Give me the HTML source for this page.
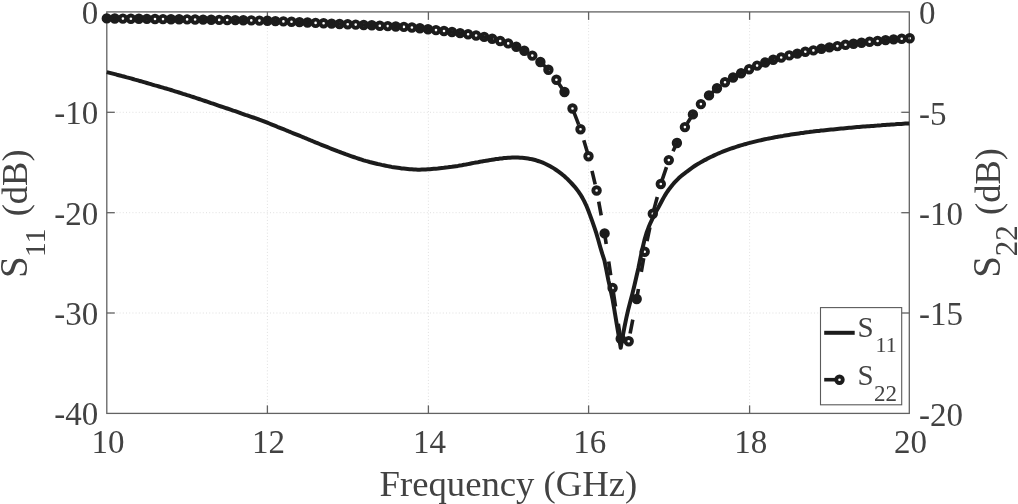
<!DOCTYPE html>
<html><head><meta charset="utf-8"><title>S-parameters</title>
<style>
html,body{margin:0;padding:0;background:#fff;}
body{width:1018px;height:504px;overflow:hidden;}
svg{display:block;}
text{font-family:"Liberation Serif",serif;fill:#424242;}
.tk text{font-size:33px;}
.ax{font-size:36.5px;}
.sub{font-size:30px;}
.axs{font-size:39px;}
.lg{font-size:29px;}
.lgs{font-size:22px;}
</style></head><body>
<svg width="1018" height="504" viewBox="0 0 1018 504">
<rect width="1018" height="504" fill="#fff"/>
<g stroke="#dcdcdc" stroke-width="0.9" stroke-dasharray="1 2.2" fill="none"><line x1="267.4" y1="11.9" x2="267.4" y2="413.4"/><line x1="428.4" y1="11.9" x2="428.4" y2="413.4"/><line x1="588.6" y1="11.9" x2="588.6" y2="413.4"/><line x1="749.6" y1="11.9" x2="749.6" y2="413.4"/><line x1="106.8" y1="112.3" x2="909.3" y2="112.3"/><line x1="106.8" y1="212.7" x2="909.3" y2="212.7"/><line x1="106.8" y1="313.0" x2="909.3" y2="313.0"/></g>
<g stroke="#626262" stroke-width="1.3" fill="none">
<rect x="106.8" y="11.9" width="802.5" height="401.5"/>
<line x1="267.4" y1="413.4" x2="267.4" y2="405.4"/><line x1="267.4" y1="11.9" x2="267.4" y2="19.9"/><line x1="428.4" y1="413.4" x2="428.4" y2="405.4"/><line x1="428.4" y1="11.9" x2="428.4" y2="19.9"/><line x1="588.6" y1="413.4" x2="588.6" y2="405.4"/><line x1="588.6" y1="11.9" x2="588.6" y2="19.9"/><line x1="749.6" y1="413.4" x2="749.6" y2="405.4"/><line x1="749.6" y1="11.9" x2="749.6" y2="19.9"/><line x1="106.8" y1="112.3" x2="114.8" y2="112.3"/><line x1="106.8" y1="212.7" x2="114.8" y2="212.7"/><line x1="106.8" y1="313.0" x2="114.8" y2="313.0"/><line x1="909.3" y1="112.3" x2="901.3" y2="112.3"/><line x1="909.3" y1="212.7" x2="901.3" y2="212.7"/><line x1="909.3" y1="313.0" x2="901.3" y2="313.0"/>
</g>
<path d="M106.8,72.1 L108.8,72.6 L110.8,73.1 L112.8,73.6 L114.8,74.1 L116.8,74.7 L118.8,75.2 L120.8,75.7 L122.8,76.3 L124.9,76.8 L126.9,77.4 L128.9,77.9 L130.9,78.4 L132.9,79.0 L134.9,79.6 L136.9,80.1 L138.9,80.7 L140.9,81.2 L142.9,81.8 L144.9,82.4 L146.9,83.0 L148.9,83.6 L150.9,84.2 L152.9,84.8 L154.9,85.4 L157.0,85.9 L159.0,86.5 L161.0,87.1 L163.0,87.7 L165.0,88.3 L167.0,88.8 L169.0,89.4 L171.0,90.0 L173.0,90.7 L175.0,91.3 L177.0,91.9 L179.0,92.5 L181.0,93.1 L183.0,93.8 L185.0,94.4 L187.1,95.1 L189.1,95.7 L191.1,96.4 L193.1,97.0 L195.1,97.7 L197.1,98.3 L199.1,99.0 L201.1,99.7 L203.1,100.3 L205.1,101.0 L207.1,101.7 L209.1,102.4 L211.1,103.1 L213.1,103.7 L215.1,104.4 L217.1,105.1 L219.1,105.8 L221.2,106.5 L223.2,107.1 L225.2,107.8 L227.2,108.5 L229.2,109.2 L231.2,109.9 L233.2,110.6 L235.2,111.2 L237.2,111.9 L239.2,112.6 L241.2,113.4 L243.2,114.1 L245.2,114.8 L247.2,115.4 L249.2,116.1 L251.2,116.8 L253.3,117.5 L255.3,118.2 L257.3,118.9 L259.3,119.7 L261.3,120.4 L263.3,121.1 L265.3,121.9 L267.3,122.7 L269.3,123.5 L271.3,124.3 L273.3,125.1 L275.3,125.9 L277.3,126.8 L279.3,127.6 L281.3,128.4 L283.4,129.2 L285.4,130.0 L287.4,130.8 L289.4,131.7 L291.4,132.5 L293.4,133.3 L295.4,134.1 L297.4,134.9 L299.4,135.7 L301.4,136.5 L303.4,137.3 L305.4,138.2 L307.4,139.0 L309.4,139.8 L311.4,140.7 L313.4,141.5 L315.4,142.4 L317.5,143.2 L319.5,144.0 L321.5,144.8 L323.5,145.6 L325.5,146.4 L327.5,147.2 L329.5,148.0 L331.5,148.8 L333.5,149.6 L335.5,150.4 L337.5,151.2 L339.5,151.9 L341.5,152.7 L343.5,153.4 L345.5,154.2 L347.6,154.9 L349.6,155.6 L351.6,156.3 L353.6,157.0 L355.6,157.7 L357.6,158.3 L359.6,159.0 L361.6,159.6 L363.6,160.3 L365.6,160.9 L367.6,161.4 L369.6,162.0 L371.6,162.5 L373.6,163.0 L375.6,163.5 L377.6,164.0 L379.7,164.4 L381.7,164.9 L383.7,165.3 L385.7,165.7 L387.7,166.1 L389.7,166.5 L391.7,166.9 L393.7,167.2 L395.7,167.5 L397.7,167.8 L399.7,168.1 L401.7,168.4 L403.7,168.6 L405.7,168.8 L407.7,169.0 L409.7,169.2 L411.8,169.3 L413.8,169.5 L415.8,169.6 L417.8,169.7 L419.8,169.7 L421.8,169.6 L423.8,169.5 L425.8,169.4 L427.8,169.3 L429.8,169.2 L431.8,169.0 L433.8,168.8 L435.8,168.7 L437.8,168.5 L439.8,168.2 L441.8,168.0 L443.9,167.8 L445.9,167.5 L447.9,167.3 L449.9,167.0 L451.9,166.8 L453.9,166.5 L455.9,166.2 L457.9,165.9 L459.9,165.5 L461.9,165.2 L463.9,164.8 L465.9,164.5 L467.9,164.1 L469.9,163.7 L471.9,163.3 L473.9,162.9 L475.9,162.5 L478.0,162.2 L480.0,161.8 L482.0,161.4 L484.0,161.1 L486.0,160.7 L488.0,160.4 L490.0,160.1 L492.0,159.7 L494.0,159.4 L496.0,159.1 L498.0,158.9 L500.0,158.6 L502.0,158.4 L504.0,158.1 L506.0,158.0 L508.1,157.8 L510.1,157.7 L512.1,157.6 L514.1,157.6 L516.1,157.6 L518.1,157.6 L520.1,157.7 L522.1,157.8 L524.1,158.0 L526.1,158.3 L528.1,158.6 L530.1,158.9 L532.1,159.3 L534.1,159.8 L536.1,160.3 L538.1,161.0 L540.1,161.7 L542.2,162.4 L544.2,163.3 L546.2,164.2 L548.2,165.2 L550.2,166.3 L552.2,167.4 L554.2,168.6 L556.2,170.0 L558.2,171.4 L560.2,172.9 L562.2,174.4 L564.2,176.1 L566.2,177.9 L568.2,179.8 L570.2,181.9 L572.2,184.0 L574.3,186.3 L576.3,188.8 L578.3,191.4 L580.3,194.3 L582.3,197.6 L584.3,201.4 L586.3,205.6 L588.3,210.6 L590.3,215.9 L592.3,221.4 L594.3,227.1 L596.3,233.2 L598.3,240.0 L600.3,247.2 L602.3,253.9 L604.4,260.3 L606.4,270.0 L608.4,280.4 L610.4,289.0 L612.4,298.5 L614.4,310.0 L616.4,322.1 L618.4,334.0 L620.4,346.0 L620.7,347.8 L622.4,338.0 L624.4,327.4 L626.4,317.7 L628.4,308.9 L630.4,301.2 L632.4,293.7 L634.4,285.5 L636.4,276.8 L638.5,267.7 L640.5,257.7 L642.5,248.2 L644.5,239.9 L646.5,233.0 L648.5,227.6 L650.5,222.8 L652.5,218.6 L654.5,214.8 L656.5,210.9 L658.5,207.3 L660.5,203.5 L662.5,199.7 L664.5,196.1 L666.5,192.9 L668.5,190.0 L670.6,187.3 L672.6,184.7 L674.6,182.4 L676.6,180.3 L678.6,178.3 L680.6,176.5 L682.6,174.9 L684.6,173.4 L686.6,171.8 L688.6,170.3 L690.6,168.8 L692.6,167.4 L694.6,166.0 L696.6,164.7 L698.6,163.6 L700.6,162.4 L702.7,161.2 L704.7,160.1 L706.7,159.1 L708.7,158.0 L710.7,157.0 L712.7,156.1 L714.7,155.1 L716.7,154.2 L718.7,153.3 L720.7,152.5 L722.7,151.7 L724.7,150.9 L726.7,150.1 L728.7,149.4 L730.7,148.7 L732.8,148.0 L734.8,147.3 L736.8,146.7 L738.8,146.0 L740.8,145.4 L742.8,144.8 L744.8,144.2 L746.8,143.7 L748.8,143.1 L750.8,142.6 L752.8,142.1 L754.8,141.6 L756.8,141.1 L758.8,140.6 L760.8,140.2 L762.8,139.7 L764.8,139.3 L766.9,138.9 L768.9,138.5 L770.9,138.1 L772.9,137.7 L774.9,137.3 L776.9,136.9 L778.9,136.6 L780.9,136.2 L782.9,135.9 L784.9,135.5 L786.9,135.2 L788.9,134.9 L790.9,134.6 L792.9,134.3 L794.9,134.0 L796.9,133.7 L799.0,133.4 L801.0,133.1 L803.0,132.9 L805.0,132.6 L807.0,132.3 L809.0,132.1 L811.0,131.8 L813.0,131.6 L815.0,131.3 L817.0,131.1 L819.0,130.9 L821.0,130.6 L823.0,130.4 L825.0,130.2 L827.0,130.0 L829.0,129.8 L831.1,129.6 L833.1,129.4 L835.1,129.2 L837.1,129.0 L839.1,128.8 L841.1,128.6 L843.1,128.4 L845.1,128.2 L847.1,128.0 L849.1,127.8 L851.1,127.7 L853.1,127.5 L855.1,127.3 L857.1,127.1 L859.1,127.0 L861.1,126.8 L863.2,126.6 L865.2,126.5 L867.2,126.3 L869.2,126.2 L871.2,126.0 L873.2,125.9 L875.2,125.7 L877.2,125.6 L879.2,125.4 L881.2,125.3 L883.2,125.1 L885.2,125.0 L887.2,124.8 L889.2,124.7 L891.2,124.5 L893.2,124.4 L895.3,124.3 L897.3,124.1 L899.3,124.0 L901.3,123.9 L903.3,123.7 L905.3,123.6 L907.3,123.5 L909.3,123.4" fill="none" stroke="#1c1c1c" stroke-width="4" stroke-linejoin="round"/>
<path d="M103.8,18.4 L106.8,18.4 L114.8,18.5 L117.8,18.5 M135.9,18.7 L138.9,18.8 L146.9,18.9 L149.9,18.9 M168.0,19.1 L171.0,19.2 L179.1,19.3 L182.0,19.3 M200.1,19.6 L203.1,19.6 L211.2,19.7 L214.1,19.8 M232.2,20.1 L235.3,20.1 L243.3,20.3 L246.2,20.3 M264.3,20.7 L267.4,20.8 L275.4,21.1 L278.3,21.2 M296.4,22.0 L299.5,22.1 L307.5,22.5 L310.3,22.7 M328.4,23.5 L331.6,23.6 L339.6,24.0 L342.4,24.1 M360.5,24.8 L363.7,25.0 L371.8,25.3 L374.5,25.5 M388.7,26.1 L395.8,26.5 L402.6,26.9 M417.0,28.0 L419.9,28.3 L428.0,29.2 L430.9,29.5 M448.3,31.5 L452.0,32.0 L460.1,33.1 L462.2,33.4 M479.6,36.1 L484.2,36.9 L492.2,38.8 L493.2,39.1 M514.2,45.8 L516.3,46.7 L524.3,50.7 L526.7,52.1 M539.1,61.0 L540.4,62.0 L548.4,69.8 L549.1,70.7 M558.4,82.9 L564.5,92.0 L565.8,94.8 M573.7,111.6 L578.7,124.6 M583.8,140.3 L587.8,153.8 M592.0,170.8 L595.2,184.4 M598.7,201.6 L601.2,215.4 M604.0,230.2 L604.6,233.4 L606.2,244.0 M608.7,261.4 L610.7,275.2 M613.4,292.6 L615.5,306.4 M618.3,323.8 L620.5,337.6 M630.1,333.5 L632.8,319.7 M636.0,302.8 L636.7,299.0 L638.4,289.0 M641.3,271.9 L643.7,258.1 M647.0,241.1 L649.9,227.4 M653.6,210.6 L657.3,197.0 M662.0,180.4 L666.5,167.1 M673.0,151.2 L676.9,143.0 L679.1,138.5 M687.3,123.3 L692.9,114.4 L695.0,111.7 M707.9,96.6 L709.0,95.4 L717.0,88.3 L718.3,87.3 M731.2,78.6 L733.1,77.5 L741.1,73.2 L743.6,72.0 M761.5,63.9 L765.2,62.5 L773.2,59.7 L774.7,59.3 M790.5,55.1 L797.3,53.6 L804.1,52.1 M818.5,49.4 L821.4,48.8 L829.4,47.4 L832.3,46.9 M850.6,44.1 L853.5,43.7 L861.5,42.7 L864.5,42.4 M882.7,40.4 L885.6,40.1 L893.6,39.4 L896.6,39.1" fill="none" stroke="#1c1c1c" stroke-width="3.6" stroke-linejoin="round"/>
<g fill="none" stroke="#1c1c1c" stroke-width="3.9"><circle cx="106.8" cy="18.4" r="3.25"/><circle cx="114.8" cy="18.5" r="3.25"/><circle cx="122.9" cy="18.6" r="3.25"/><circle cx="130.9" cy="18.7" r="3.25"/><circle cx="138.9" cy="18.8" r="3.25"/><circle cx="146.9" cy="18.9" r="3.25"/><circle cx="155.0" cy="19.0" r="3.25"/><circle cx="163.0" cy="19.1" r="3.25"/><circle cx="171.0" cy="19.2" r="3.25"/><circle cx="179.1" cy="19.3" r="3.25"/><circle cx="187.1" cy="19.4" r="3.25"/><circle cx="195.1" cy="19.5" r="3.25"/><circle cx="203.1" cy="19.6" r="3.25"/><circle cx="211.2" cy="19.7" r="3.25"/><circle cx="219.2" cy="19.9" r="3.25"/><circle cx="227.2" cy="20.0" r="3.25"/><circle cx="235.3" cy="20.1" r="3.25"/><circle cx="243.3" cy="20.3" r="3.25"/><circle cx="251.3" cy="20.4" r="3.25"/><circle cx="259.4" cy="20.6" r="3.25"/><circle cx="267.4" cy="20.8" r="3.25"/><circle cx="275.4" cy="21.1" r="3.25"/><circle cx="283.4" cy="21.4" r="3.25"/><circle cx="291.5" cy="21.7" r="3.25"/><circle cx="299.5" cy="22.1" r="3.25"/><circle cx="307.5" cy="22.5" r="3.25"/><circle cx="315.6" cy="22.9" r="3.25"/><circle cx="323.6" cy="23.2" r="3.25"/><circle cx="331.6" cy="23.6" r="3.25"/><circle cx="339.6" cy="24.0" r="3.25"/><circle cx="347.7" cy="24.3" r="3.25"/><circle cx="355.7" cy="24.6" r="3.25"/><circle cx="363.7" cy="25.0" r="3.25"/><circle cx="371.8" cy="25.3" r="3.25"/><circle cx="379.8" cy="25.7" r="3.25"/><circle cx="387.8" cy="26.1" r="3.25"/><circle cx="395.8" cy="26.5" r="3.25"/><circle cx="403.9" cy="26.9" r="3.25"/><circle cx="411.9" cy="27.5" r="3.25"/><circle cx="419.9" cy="28.3" r="3.25"/><circle cx="428.0" cy="29.2" r="3.25"/><circle cx="436.0" cy="30.1" r="3.25"/><circle cx="444.0" cy="31.0" r="3.25"/><circle cx="452.0" cy="32.0" r="3.25"/><circle cx="460.1" cy="33.1" r="3.25"/><circle cx="468.1" cy="34.3" r="3.25"/><circle cx="476.1" cy="35.5" r="3.25"/><circle cx="484.2" cy="36.9" r="3.25"/><circle cx="492.2" cy="38.8" r="3.25"/><circle cx="500.2" cy="41.0" r="3.25"/><circle cx="508.2" cy="43.4" r="3.25"/><circle cx="516.3" cy="46.7" r="3.25"/><circle cx="524.3" cy="50.7" r="3.25"/><circle cx="532.3" cy="55.6" r="3.25"/><circle cx="540.4" cy="62.0" r="3.25"/><circle cx="548.4" cy="69.8" r="3.25"/><circle cx="556.4" cy="79.8" r="3.25"/><circle cx="564.5" cy="92.0" r="3.25"/><circle cx="572.5" cy="108.5" r="3.25"/><circle cx="580.5" cy="129.2" r="3.25"/><circle cx="588.5" cy="156.2" r="3.25"/><circle cx="596.6" cy="190.5" r="3.25"/><circle cx="604.6" cy="233.4" r="3.25"/><circle cx="612.6" cy="288.0" r="3.25"/><circle cx="620.7" cy="338.8" r="3.25"/><circle cx="628.7" cy="341.2" r="3.25"/><circle cx="636.7" cy="299.0" r="3.25"/><circle cx="644.7" cy="251.7" r="3.25"/><circle cx="652.8" cy="213.8" r="3.25"/><circle cx="660.8" cy="184.0" r="3.25"/><circle cx="668.8" cy="160.1" r="3.25"/><circle cx="676.9" cy="143.0" r="3.25"/><circle cx="684.9" cy="127.1" r="3.25"/><circle cx="692.9" cy="114.4" r="3.25"/><circle cx="700.9" cy="104.1" r="3.25"/><circle cx="709.0" cy="95.4" r="3.25"/><circle cx="717.0" cy="88.3" r="3.25"/><circle cx="725.0" cy="82.3" r="3.25"/><circle cx="733.1" cy="77.5" r="3.25"/><circle cx="741.1" cy="73.2" r="3.25"/><circle cx="749.1" cy="69.3" r="3.25"/><circle cx="757.1" cy="65.6" r="3.25"/><circle cx="765.2" cy="62.5" r="3.25"/><circle cx="773.2" cy="59.7" r="3.25"/><circle cx="781.2" cy="57.5" r="3.25"/><circle cx="789.3" cy="55.4" r="3.25"/><circle cx="797.3" cy="53.6" r="3.25"/><circle cx="805.3" cy="51.8" r="3.25"/><circle cx="813.4" cy="50.4" r="3.25"/><circle cx="821.4" cy="48.8" r="3.25"/><circle cx="829.4" cy="47.4" r="3.25"/><circle cx="837.4" cy="46.1" r="3.25"/><circle cx="845.5" cy="44.8" r="3.25"/><circle cx="853.5" cy="43.7" r="3.25"/><circle cx="861.5" cy="42.7" r="3.25"/><circle cx="869.6" cy="41.8" r="3.25"/><circle cx="877.6" cy="41.0" r="3.25"/><circle cx="885.6" cy="40.1" r="3.25"/><circle cx="893.6" cy="39.4" r="3.25"/><circle cx="901.7" cy="38.7" r="3.25"/><circle cx="909.7" cy="38.2" r="3.25"/></g>
<g class="tk"><text x="98.2" y="23.9" text-anchor="end">0</text><text x="98.2" y="124.3" text-anchor="end">-10</text><text x="98.2" y="224.7" text-anchor="end">-20</text><text x="98.2" y="325.0" text-anchor="end">-30</text><text x="98.2" y="425.4" text-anchor="end">-40</text><text x="919" y="24.2">0</text><text x="919" y="124.6">-5</text><text x="919" y="225.0">-10</text><text x="919" y="325.3">-15</text><text x="919" y="425.7">-20</text><text x="108.0" y="452.9" text-anchor="middle">10</text><text x="268.6" y="452.9" text-anchor="middle">12</text><text x="429.6" y="452.9" text-anchor="middle">14</text><text x="589.8" y="452.9" text-anchor="middle">16</text><text x="750.8" y="452.9" text-anchor="middle">18</text><text x="910.5" y="452.9" text-anchor="middle">20</text></g>
<text class="ax" x="379.6" y="495.6" style="font-size:36.7px">Frequency (GHz)</text>
<g transform="translate(27.1,277.9) rotate(-90)"><text class="axs" x="0" y="0">S</text><text class="sub" x="20.6" y="18.1">11</text><text class="ax" x="61.6" y="0">(dB)</text></g>
<g transform="translate(1000.4,277.7) rotate(-90)"><text class="axs" x="0" y="0">S</text><text class="sub" x="21.4" y="16.3" style="font-size:31px">22</text><text class="ax" x="62.7" y="0">(dB)</text></g>
<g>
<rect x="820.5" y="307.6" width="81.2" height="97.2" fill="#fff" stroke="#5a5a5a" stroke-width="1.1"/>
<line x1="824.2" y1="332.8" x2="854.7" y2="332.8" stroke="#1c1c1c" stroke-width="4"/>
<line x1="824.2" y1="379.7" x2="836" y2="379.7" stroke="#1c1c1c" stroke-width="3.6"/>
<circle cx="839.5" cy="379.7" r="3.25" fill="none" stroke="#1c1c1c" stroke-width="3.9"/>
<text class="lg" x="857.5" y="337.3">S</text><text class="lgs" x="875.5" y="351.7">11</text>
<text class="lg" x="857.5" y="385.2">S</text><text class="lgs" x="874" y="400.6" style="font-size:23px">22</text>
</g>
</svg>
</body></html>
